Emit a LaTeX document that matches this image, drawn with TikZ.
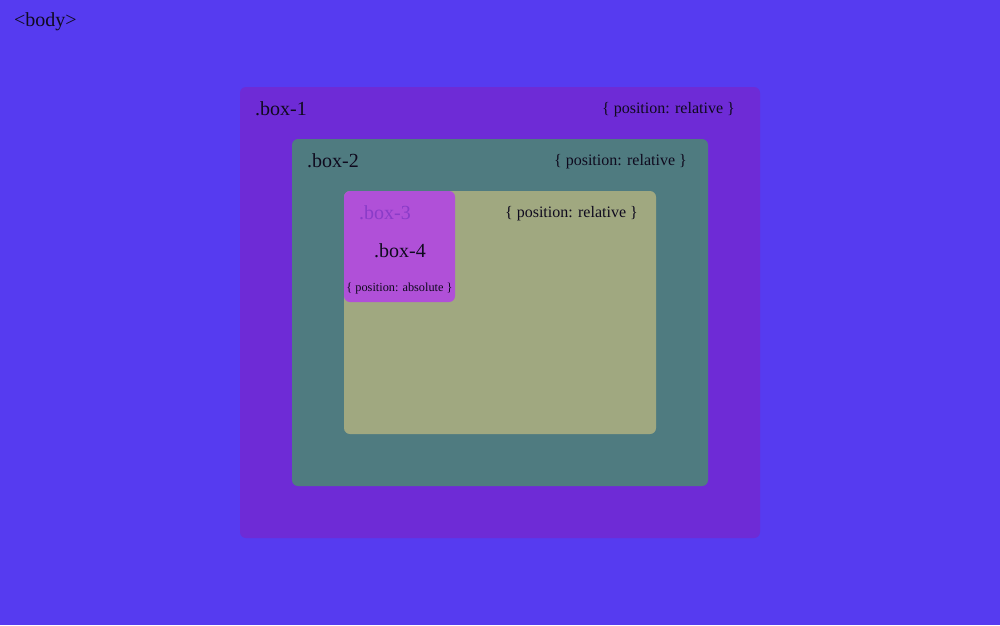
\documentclass[tikz,border=0pt]{standalone}
\usepackage{fontspec}
\setmainfont{Liberation Serif}
\definecolor{bodybg}{RGB}{86,59,240}
\definecolor{boxone}{RGB}{110,43,214}
\definecolor{boxtwo}{RGB}{79,123,128}
\definecolor{boxthree}{RGB}{160,168,128}
\definecolor{boxfour}{RGB}{176,80,216}
\definecolor{labthree}{RGB}{138,60,200}
\definecolor{ink}{RGB}{15,10,30}
\tikzset{
  panel/.style={rounded corners=6pt, draw=none},
  big/.style={font=\fontsize{20}{24}\selectfont, text=ink, inner sep=0pt},
  med/.style={font=\fontsize{16}{19}\selectfont, text=ink, inner sep=0pt},
  small/.style={font=\fontsize{12.3}{15}\selectfont, text=ink, inner sep=0pt},
}
\begin{document}
\begin{tikzpicture}[x=1pt,y=-1pt]
\fill[bodybg] (0,0) rectangle (1000,625);
\useasboundingbox (0,0) rectangle (1000,625);
\fill[boxone,panel] (240,87) rectangle (760,538);
\fill[boxtwo,panel] (292,139) rectangle (708,486);
\fill[boxthree,panel] (344,191) rectangle (656,434);
\fill[boxfour,panel] (344,191) rectangle (455,302);
\node[big,anchor=west] (body) at (14,22) {<body>};
\node[big,anchor=west] (l1) at (255,108.5) {.box-1};
\node[med,anchor=east] (p1) at (735,110) {\{ position: relative \}};
\node[big,anchor=west] (l2) at (307,160.5) {.box-2};
\node[med,anchor=east] (p2) at (687,162) {\{ position: relative \}};
\node[big,anchor=west,text=labthree] (l3) at (359,212.5) {.box-3};
\node[med,anchor=east] (p3) at (638,214) {\{ position: relative \}};
\node[big] (l4) at (400,250.5) {.box-4};
\node[small] (p4) at (399.5,289) {\{ position: absolute \}};
\end{tikzpicture}
\end{document}
